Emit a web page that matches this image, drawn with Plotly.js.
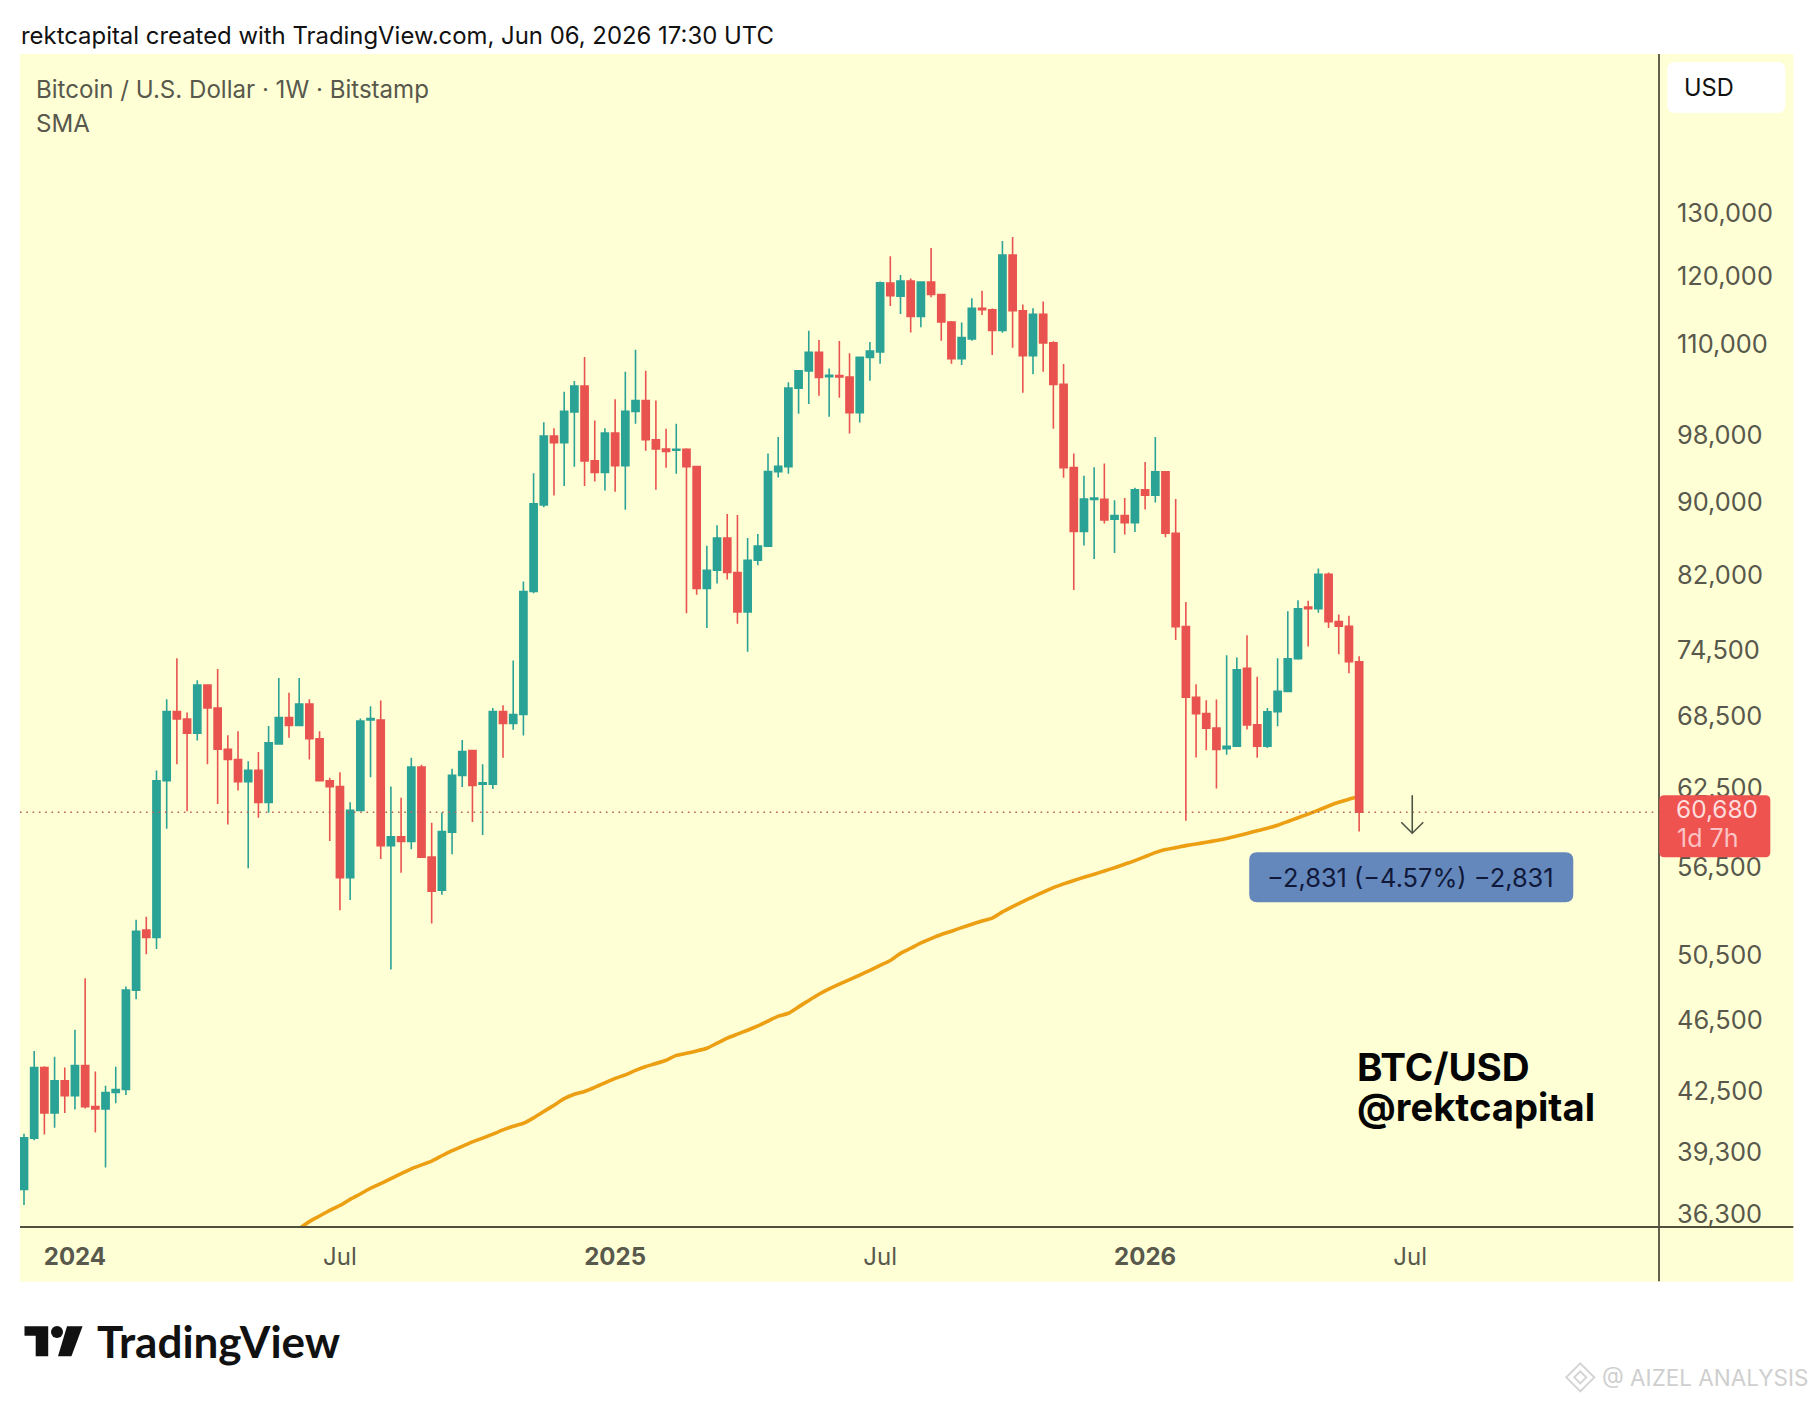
<!DOCTYPE html>
<html>
<head>
<meta charset="utf-8">
<script src="https://cdn.plot.ly/plotly-3.0.1.min.js"></script>
<style>html,body{margin:0;padding:0;background:#fff}#c{width:1814px;height:1402px}</style>
</head>
<body>
<div id="c"></div>
<script>
// weekly Bitcoin candles, first week starts 2023-11-27
const firstWeek = Date.UTC(2023, 10, 27);
const open = [37524,40050,43828,41360,43086,42278,43940,41695,41570,42450,42613,48370,52216,51727,63164,68980,68331,67107,71346,69300,65750,64900,63080,64000,61430,66200,68450,67770,69640,66630,63164,62690,55829,60820,68260,68230,58152,58800,58460,64270,57300,54930,59150,63593,65640,62890,62890,68980,67950,68720,80394,89764,97999,97160,101050,104460,94950,93550,98375,94370,101125,102550,97530,96400,96250,96370,94250,80703,82590,86052,82350,78330,83660,85172,93650,94250,104170,106490,109049,105710,105850,105660,100950,108340,109100,119110,117100,119410,114140,119260,117370,113340,108140,110900,115330,115120,112130,123404,114970,108560,114430,110350,104670,94130,86770,90390,90400,88150,88550,87760,91500,90870,93640,86580,76870,70254,68800,67540,65800,66000,72890,67820,66000,68965,70780,73790,78800,78640,82170,77360,76910,73500];
const high = [40278,44761,43900,44434,43828,45990,49101,43603,42817,43870,48600,52915,53107,64000,70082,73842,68910,71792,71400,72830,66930,67280,64740,65510,67730,72000,70650,72000,70082,67280,63400,63840,61450,68370,69460,69970,62690,61800,65040,64470,59860,60665,64130,66520,65680,64500,69300,69530,73610,81424,93470,99750,98990,103696,105120,108386,99950,98990,102700,106360,109376,106490,102550,98911,99540,96490,94300,85220,87480,88720,88610,86052,86500,95850,97880,104950,106530,112070,110750,106800,110610,108900,108450,110470,119350,123240,120320,119800,119300,124520,117400,113460,113250,116820,117946,115300,125660,126300,115900,115330,116340,110600,107410,95850,93170,94170,94630,90300,90560,91740,94800,97880,93700,90440,79320,71420,69990,70050,74120,73900,76040,72120,69290,73840,78380,79500,79440,82780,82360,78070,77940,74010];
const low = [36780,39950,40237,40589,41360,41540,41600,40339,38585,41870,42320,47812,50626,50975,59418,64500,60756,66481,64500,61313,59730,62380,56500,60260,60630,66130,66720,67700,64900,63100,58500,53560,54260,60730,63440,57170,49660,56170,57880,57250,52650,54620,57510,62660,59930,58940,62500,65040,67400,66900,80200,89495,90850,91950,94250,91950,92490,91440,91285,89210,99540,96190,91530,94130,93400,78180,80050,76730,81220,81630,77150,74440,83135,85100,92970,93400,100820,102100,103170,100430,102900,98320,99700,105170,107450,115650,114480,111830,112580,116970,110660,107450,107270,110660,114330,108650,111800,109660,103563,106030,106360,98911,92930,80550,85250,83800,87660,84440,86440,86730,89250,90030,86140,75580,60030,65070,65660,62540,65290,65930,67430,65040,65850,67700,70710,73700,74940,78250,76730,74220,72430,59200];
const close = [40069,43828,41360,43086,42278,43940,41695,41570,42450,42613,48370,52137,51727,63164,68980,68331,67107,71346,69300,65750,64900,63080,64000,61430,66300,68450,67770,69640,66630,63164,62690,55829,60820,68160,68370,58152,58800,58460,64270,57300,54875,59200,63593,65550,62790,62990,68980,67950,68720,80394,89881,97999,97160,101125,104460,94950,93550,98375,94370,101125,102550,97530,96400,96080,96370,94250,80703,82590,86052,82350,78330,83660,85172,93650,94300,104170,106490,109049,105600,105890,105660,100950,108340,109200,119154,117191,119410,114140,119260,117370,113340,108140,111100,115330,115120,112130,123404,114970,108560,114430,110350,104670,94130,86770,90430,90550,88065,88550,87760,91500,90870,93640,86580,76870,70254,68800,67540,65730,66000,72760,67820,66000,68965,70780,73790,78640,78640,82170,77360,76910,73500,60680];
// moving average, readable from week index 27 onward
const smaStartWeek = 27;
const sma = [35690,36012,36270,36536,36760,37050,37304,37577,37800,38040,38280,38520,38710,38900,39166,39420,39640,39865,40054,40258,40477,40666,40820,41105,41435,41772,42120,42360,42510,42730,42980,43225,43420,43665,43885,44050,44236,44510,44625,44760,44915,45205,45500,45730,45960,46210,46500,46790,46965,47347,47740,48115,48440,48735,49015,49310,49605,49915,50230,50691,51020,51370,51655,51920,52140,52380,52605,52825,53020,53440,53804,54150,54480,54810,55120,55380,55620,55850,56065,56300,56530,56790,57050,57340,57630,57860,58000,58150,58270,58400,58530,58680,58860,59060,59260,59450,59680,59960,60250,60535,60835,61160,61450,61690,61900];
const priceTicks = [36300,39300,42500,46500,50500,56500,62500,68500,74500,82000,90000,98000,110000,120000,130000];
const dateTicks = ['2024-01-01','2024-07-01','2025-01-06','2025-07-07','2026-01-05','2026-07-06'];
const dateLabels = ['<b>2024</b>','Jul','<b>2025</b>','Jul','<b>2026</b>','Jul'];
const lastPrice = 60680;

const DAY = 86400000;
const iso = t => new Date(t).toISOString().slice(0,19);
const weekDates = open.map((_, i) => iso(firstWeek + i*7*DAY));
const smaDates = sma.map((_, i) => iso(firstWeek + (i+smaStartWeek)*7*DAY));

// page layout
const L=20, R=1658.7, T=54, B=1226.7;
const px = x => (x-L)/(R-L), py = y => (B-y)/(B-T);
const rr = (x0,y0,x1,y1,r) => {
  const P=(x,y)=>px(x)+' '+py(y);
  return 'M'+P(x0+r,y0)+' L'+P(x1-r,y0)+' Q'+P(x1,y0)+' '+P(x1,y0+r)+' L'+P(x1,y1-r)+' Q'+P(x1,y1)+' '+P(x1-r,y1)+' L'+P(x0+r,y1)+' Q'+P(x0,y1)+' '+P(x0,y1-r)+' L'+P(x0,y0+r)+' Q'+P(x0,y0)+' '+P(x0+r,y0)+' Z';
};
const poly = pts => 'M'+pts.map(p=>px(p[0])+' '+py(p[1])).join(' L')+' Z';
const open_ = pts => 'M'+pts.map(p=>px(p[0])+' '+py(p[1])).join(' L');
const pshape = (o) => Object.assign({type:'path',xref:'paper',yref:'paper',line:{width:0}},o);
const BG='#FFFFD6', AX='#50503f', TXT='#58584c', FONT='Inter, "Liberation Sans", sans-serif';

const xR = [iso(firstWeek + (L-24)/10.19*7*DAY), iso(firstWeek + (R-24)/10.19*7*DAY)];
const pAt = y => lastPrice*Math.exp((812-y)/784.5);
const yR = [Math.log10(pAt(B)), Math.log10(pAt(T))];

const traces = [
 {type:'scatter',mode:'lines',x:smaDates,y:sma,line:{color:'#EC9F13',width:3.6,shape:'spline',smoothing:0.5},hoverinfo:'skip',xaxis:'x',yaxis:'y'},
 {type:'candlestick',x:weekDates,open,high,low,close,xaxis:'x',yaxis:'y2',whiskerwidth:0,hoverinfo:'skip',
  increasing:{line:{color:'#2AA396',width:1.6},fillcolor:'#2AA396'},
  decreasing:{line:{color:'#E9534F',width:1.6},fillcolor:'#E9534F'}}
];

const ann = (text,x,y,size,color,extra) => Object.assign({xref:'paper',yref:'paper',x:px(x),y:py(y),text,showarrow:false,xanchor:'left',yanchor:'middle',align:'left',font:{family:FONT,size,color},borderpad:0},extra||{});

const layout = {
 width:1814,height:1402,margin:{l:L,r:1814-R,t:T,b:1402-B,pad:0},
 paper_bgcolor:'#fff',plot_bgcolor:BG,showlegend:false,boxgap:0.3,boxgroupgap:0,
 xaxis:{type:'date',range:xR,tickmode:'array',tickvals:dateTicks,ticktext:dateLabels,showgrid:false,zeroline:false,showline:false,ticks:'',ticklabelstandoff:13,
   tickfont:{family:FONT,size:24,color:TXT},rangeslider:{visible:false},fixedrange:true},
 yaxis:{type:'log',range:yR,side:'right',tickmode:'array',tickvals:priceTicks,ticktext:priceTicks.map(v=>v.toLocaleString('en-US')),showgrid:false,zeroline:false,showline:false,ticks:'',ticklabelstandoff:17,ticklabelshift:-1,
   tickfont:{family:FONT,size:25.4,color:TXT},fixedrange:true},
 yaxis2:{type:'log',range:yR,overlaying:'y',side:'right',visible:false,fixedrange:true},
 shapes:[
  pshape({x0:0,x1:0,y0:0,y1:0,path:poly([[20,54],[1793,54],[1793,1281.5],[20,1281.5]]),fillcolor:BG,layer:'below'}),
  {type:'line',xref:'paper',yref:'y',x0:0,x1:1,y0:lastPrice,y1:lastPrice,line:{color:'#B5635C',width:1.5,dash:'1.6px,4.7px'},layer:'above'},
  {type:'line',xref:'paper',yref:'paper',x0:px(20),x1:px(1793),y0:0,y1:0,line:{color:AX,width:1.8}},
  {type:'line',xref:'paper',yref:'paper',x0:1,x1:1,y0:py(54),y1:py(1281),line:{color:AX,width:1.8}},
  pshape({path:rr(1667,62,1785,113,8),fillcolor:'#FFFFFF'}),
  pshape({path:rr(1659,795,1770,857,5),fillcolor:'#EE5350'}),
  pshape({path:rr(1249,852,1573,902,8),fillcolor:'#6487BC'}),
  pshape({path:open_([[1412,795],[1412,833]]),line:{color:'#4F5545',width:1.6}}),
  pshape({path:open_([[1401,822],[1412,833],[1423,822]]),line:{color:'#4F5545',width:1.6}}),
  // TradingView logo
  pshape({path:poly([[24.5,1326],[48.2,1326],[48.2,1356],[35.7,1356],[35.7,1335.5],[24.5,1335.5]]),fillcolor:'#111'}),
  pshape({path:poly([[67,1326],[82.6,1326],[71.4,1356],[58,1356]]),fillcolor:'#111'}),
  {type:'circle',xref:'paper',yref:'paper',x0:px(51),x1:px(63),y0:py(1325.7),y1:py(1337.7),fillcolor:'#111',line:{width:0}},
  // watermark icon
  pshape({path:poly([[1580,1363],[1594,1377],[1580,1391],[1566,1377]]),line:{color:'#D4D4D4',width:2},fillcolor:'rgba(0,0,0,0)'}),
  pshape({path:poly([[1580,1371],[1586,1377],[1580,1383],[1574,1377]]),line:{color:'#D4D4D4',width:2},fillcolor:'rgba(0,0,0,0)'})
 ],
 annotations:[
  ann('rektcapital created with TradingView.com, Jun 06, 2026 17:30 UTC',20,35.5,23.9,'#111'),
  ann('Bitcoin / U.S. Dollar · 1W · Bitstamp',35,89.5,24.1,TXT),
  ann('SMA',35,123.5,24.1,TXT),
  ann('USD',1683,87,23.6,'#111'),
  ann('60,680',1675,809,24.4,'#FFDCDC'),
  ann('1d 7h',1676,838,25,'#FBC4C4'),
  ann('−2,831 (−4.57%) −2,831',1266,877.5,25.4,'#10193A'),
  ann('<b>BTC/USD</b>',1356,1067,38.6,'#050505'),
  ann('<b>@rektcapital</b>',1356,1107,38.2,'#050505'),
  ann('<b>TradingView</b>',96,1341,44,'#111',{font:{family:'"Lato", Inter, sans-serif',size:44,color:'#111'}}),
  ann('@ AIZEL ANALYSIS',1601,1377,22.5,'#CFCFCF')
 ]
};
Plotly.newPlot('c',traces,layout,{staticPlot:true,displayModeBar:false});
</script>
</body>
</html>
